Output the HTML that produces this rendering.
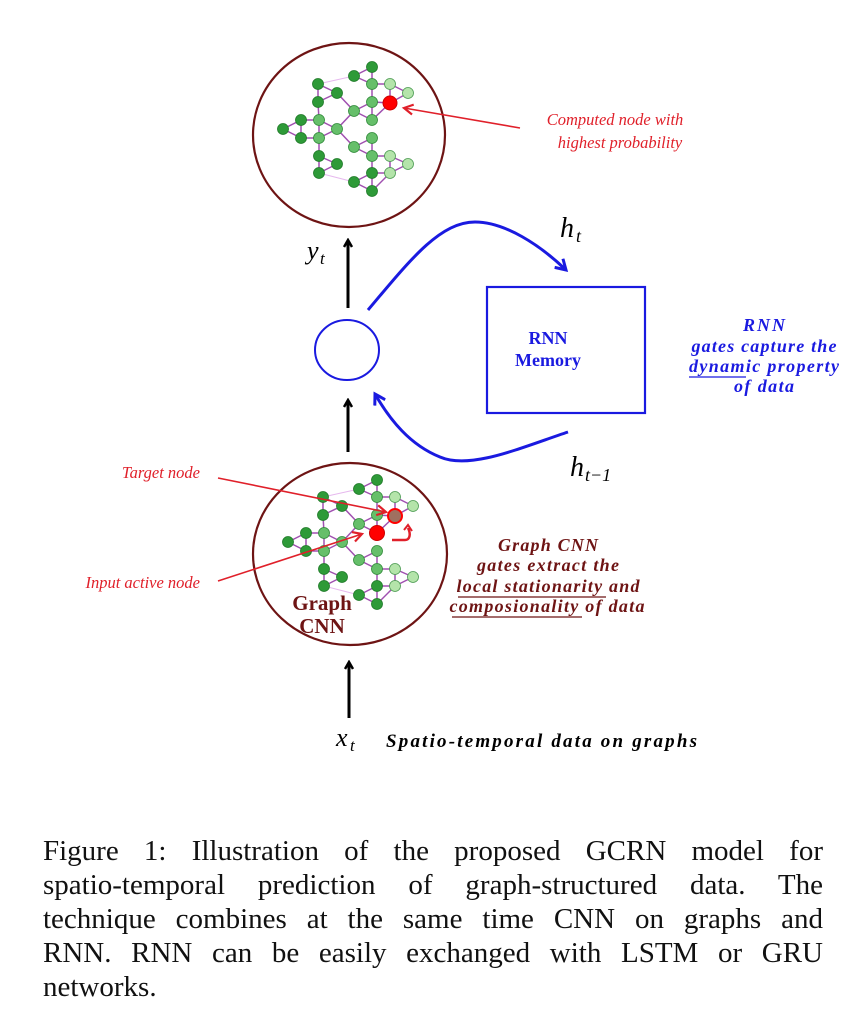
<!DOCTYPE html>
<html><head><meta charset="utf-8"><style>
html,body{margin:0;padding:0;background:#fff;}
svg{display:block;}
.cap{position:absolute;left:43px;top:834px;width:780px;font-family:"Liberation Serif",serif;font-size:29px;line-height:34px;color:#111;}
.cap div{text-align:justify;text-align-last:justify;white-space:nowrap;}
.cap div.last{text-align-last:left;}
</style></head><body>
<div style="position:relative;width:862px;height:1018px;">
<svg width="862" height="1018" viewBox="0 0 862 1018" xmlns="http://www.w3.org/2000/svg">
<defs>
<marker id="ab" markerWidth="10" markerHeight="10" refX="8" refY="5" orient="auto" markerUnits="userSpaceOnUse"><path d="M1,1 L8,5 L1,9" fill="none" stroke="#000" stroke-width="2.5"/></marker>
<marker id="ablue" markerWidth="14" markerHeight="14" refX="11" refY="7" orient="auto" markerUnits="userSpaceOnUse"><path d="M1,1 L11,7 L1,13" fill="none" stroke="#1a1ae0" stroke-width="3"/></marker>
<marker id="ared" markerWidth="14" markerHeight="14" refX="11" refY="7" orient="auto" markerUnits="userSpaceOnUse"><path d="M2,2 L11,7 L2,12" fill="none" stroke="#e0202a" stroke-width="2.2"/></marker>
<g id="graph">
<g stroke="#a050b0" stroke-width="1.5" fill="none">
<line x1="372" y1="67" x2="354" y2="76"/><line x1="372" y1="67" x2="372" y2="84"/><line x1="354" y1="76" x2="372" y2="84"/>
<line x1="372" y1="84" x2="390" y2="84"/><line x1="390" y1="84" x2="408" y2="93"/><line x1="390" y1="84" x2="390" y2="103"/><line x1="408" y1="93" x2="390" y2="103"/>
<line x1="372" y1="84" x2="372" y2="102"/><line x1="372" y1="102" x2="390" y2="103"/><line x1="372" y1="102" x2="354" y2="111"/><line x1="354" y1="111" x2="372" y2="120"/><line x1="372" y1="102" x2="372" y2="120"/><line x1="390" y1="103" x2="372" y2="120"/>
<line x1="318" y1="84" x2="337" y2="93"/><line x1="318" y1="84" x2="318" y2="102"/><line x1="337" y1="93" x2="318" y2="102"/>
<line x1="318" y1="102" x2="319" y2="120"/><line x1="301" y1="120" x2="319" y2="120"/><line x1="301" y1="120" x2="283" y2="129"/><line x1="283" y1="129" x2="301" y2="138"/><line x1="301" y1="120" x2="301" y2="138"/><line x1="301" y1="138" x2="319" y2="138"/><line x1="319" y1="120" x2="319" y2="138"/><line x1="319" y1="120" x2="337" y2="129"/><line x1="337" y1="129" x2="319" y2="138"/>
<line x1="337" y1="93" x2="354" y2="111"/><line x1="337" y1="129" x2="354" y2="111"/><line x1="337" y1="129" x2="354" y2="147"/>
<line x1="372" y1="138" x2="354" y2="147"/><line x1="372" y1="138" x2="372" y2="156"/><line x1="354" y1="147" x2="372" y2="156"/>
<line x1="372" y1="156" x2="390" y2="156"/><line x1="390" y1="156" x2="408" y2="164"/><line x1="390" y1="156" x2="390" y2="173"/><line x1="408" y1="164" x2="390" y2="173"/>
<line x1="372" y1="156" x2="372" y2="173"/><line x1="372" y1="173" x2="390" y2="173"/><line x1="372" y1="173" x2="354" y2="182"/><line x1="354" y1="182" x2="372" y2="191"/><line x1="372" y1="173" x2="372" y2="191"/><line x1="390" y1="173" x2="372" y2="191"/>
<line x1="319" y1="138" x2="319" y2="156"/><line x1="319" y1="156" x2="337" y2="164"/><line x1="319" y1="156" x2="319" y2="173"/><line x1="337" y1="164" x2="319" y2="173"/>
</g>
<g stroke="#e6b8ee" stroke-width="1" fill="none"><line x1="318" y1="84" x2="354" y2="76"/><line x1="319" y1="173" x2="354" y2="182"/></g>
<g fill="#2e9a38" stroke="#1f7a28" stroke-width="0.8">
<circle cx="372" cy="67" r="5.5"/><circle cx="354" cy="76" r="5.5"/><circle cx="318" cy="84" r="5.5"/><circle cx="337" cy="93" r="5.5"/><circle cx="318" cy="102" r="5.5"/><circle cx="301" cy="120" r="5.5"/><circle cx="283" cy="129" r="5.5"/><circle cx="301" cy="138" r="5.5"/><circle cx="319" cy="156" r="5.5"/><circle cx="337" cy="164" r="5.5"/><circle cx="319" cy="173" r="5.5"/><circle cx="372" cy="173" r="5.5"/><circle cx="354" cy="182" r="5.5"/><circle cx="372" cy="191" r="5.5"/>
</g>
<g fill="#66bf6a" stroke="#2f8a38" stroke-width="0.8">
<circle cx="372" cy="84" r="5.5"/><circle cx="372" cy="102" r="5.5"/><circle cx="354" cy="111" r="5.5"/><circle cx="372" cy="120" r="5.5"/><circle cx="319" cy="120" r="5.5"/><circle cx="337" cy="129" r="5.5"/><circle cx="319" cy="138" r="5.5"/><circle cx="372" cy="138" r="5.5"/><circle cx="354" cy="147" r="5.5"/><circle cx="372" cy="156" r="5.5"/>
</g>
<g fill="#b4e4aa" stroke="#4a9a50" stroke-width="0.8">
<circle cx="390" cy="84" r="5.5"/><circle cx="408" cy="93" r="5.5"/><circle cx="390" cy="156" r="5.5"/><circle cx="408" cy="164" r="5.5"/><circle cx="390" cy="173" r="5.5"/>
</g>
</g>
</defs>

<ellipse cx="349" cy="135" rx="96" ry="92" fill="none" stroke="#6e1414" stroke-width="2.2"/>
<use href="#graph"/>
<circle cx="390" cy="103" r="7" fill="#f00" stroke="#c00"/>
<line x1="520" y1="128" x2="404" y2="108" stroke="#e0202a" stroke-width="1.6" marker-end="url(#ared)"/>
<text x="615" y="125" text-anchor="middle" font-family="Liberation Serif,serif" font-style="italic" font-size="16.5" fill="#e0202a">Computed node with</text>
<text x="620" y="148" text-anchor="middle" font-family="Liberation Serif,serif" font-style="italic" font-size="16.5" fill="#e0202a">highest probability</text>

<line x1="348" y1="308" x2="348" y2="240" stroke="#000" stroke-width="3" marker-end="url(#ab)"/>
<text x="307" y="259" font-family="Liberation Serif,serif" font-style="italic" font-size="26" fill="#000">y</text>
<text x="320" y="264" font-family="Liberation Serif,serif" font-style="italic" font-size="17" fill="#000">t</text>

<ellipse cx="347" cy="350" rx="32" ry="30" fill="none" stroke="#1a1ae0" stroke-width="2"/>
<path d="M368,310 C410,260 440,222 475,222 C505,222 540,245 566,270" fill="none" stroke="#1a1ae0" stroke-width="3" marker-end="url(#ablue)"/>
<path d="M568,432 C520,448 470,470 440,457 C410,445 390,420 375,394" fill="none" stroke="#1a1ae0" stroke-width="3" marker-end="url(#ablue)"/>
<text x="560" y="237" font-family="Liberation Serif,serif" font-style="italic" font-size="28" fill="#000">h</text>
<text x="576" y="242" font-family="Liberation Serif,serif" font-style="italic" font-size="18" fill="#000">t</text>
<text x="570" y="476" font-family="Liberation Serif,serif" font-style="italic" font-size="28" fill="#000">h</text>
<text x="585" y="481" font-family="Liberation Serif,serif" font-style="italic" font-size="18" fill="#000">t−1</text>

<rect x="487" y="287" width="158" height="126" fill="none" stroke="#1a1ae0" stroke-width="2.2"/>
<text x="548" y="344" text-anchor="middle" font-family="Liberation Serif,serif" font-weight="bold" font-size="18" fill="#1a1ae0">RNN</text>
<text x="548" y="366" text-anchor="middle" font-family="Liberation Serif,serif" font-weight="bold" font-size="18" fill="#1a1ae0">Memory</text>

<g font-family="Liberation Serif,serif" font-style="italic" font-weight="bold" font-size="18" fill="#1a1ae0" text-anchor="middle">
<text x="764" y="331" textLength="42" lengthAdjust="spacing">RNN</text>
<text x="764" y="352" textLength="145" lengthAdjust="spacing">gates capture the</text>
<text x="764" y="372" textLength="150" lengthAdjust="spacing">dynamic property</text>
<text x="764" y="392" textLength="60" lengthAdjust="spacing">of data</text>
</g>
<line x1="689" y1="377" x2="746" y2="377" stroke="#1a1ae0" stroke-width="1.2"/>

<line x1="348" y1="452" x2="348" y2="400" stroke="#000" stroke-width="3" marker-end="url(#ab)"/>

<ellipse cx="350" cy="554" rx="97" ry="91" fill="none" stroke="#6e1414" stroke-width="2.2"/>
<use href="#graph" transform="translate(5,413)"/>
<circle cx="395" cy="516" r="7" fill="#a07060" stroke="#f00" stroke-width="2"/>
<circle cx="377" cy="533" r="7.5" fill="#f00" stroke="#c00"/>
<path d="M392,540 L405,540 C410,540 411,534 408,528" fill="none" stroke="#e0202a" stroke-width="2.5"/>
<path d="M404,530 L408,525 L412,531" fill="none" stroke="#e0202a" stroke-width="2"/>
<line x1="218" y1="478" x2="386" y2="512" stroke="#e0202a" stroke-width="1.6" marker-end="url(#ared)"/>
<line x1="218" y1="581" x2="362" y2="534" stroke="#e0202a" stroke-width="1.6" marker-end="url(#ared)"/>
<text x="322" y="610" text-anchor="middle" font-family="Liberation Serif,serif" font-weight="bold" font-size="21" fill="#6e1414">Graph</text>
<text x="322" y="633" text-anchor="middle" font-family="Liberation Serif,serif" font-weight="bold" font-size="21" fill="#6e1414">CNN</text>

<text x="200" y="478" text-anchor="end" font-family="Liberation Serif,serif" font-style="italic" font-size="16.5" fill="#e0202a">Target node</text>
<text x="200" y="588" text-anchor="end" font-family="Liberation Serif,serif" font-style="italic" font-size="16.5" fill="#e0202a">Input active node</text>

<g font-family="Liberation Serif,serif" font-style="italic" font-weight="bold" font-size="18" fill="#6e1414" text-anchor="middle">
<text x="548" y="551" textLength="100" lengthAdjust="spacing">Graph CNN</text>
<text x="548" y="571" textLength="142" lengthAdjust="spacing">gates extract the</text>
<text x="548" y="592" textLength="183" lengthAdjust="spacing">local stationarity and</text>
<text x="547" y="612" textLength="195" lengthAdjust="spacing">composionality of data</text>
</g>
<line x1="458" y1="597" x2="606" y2="597" stroke="#6e1414" stroke-width="1.2"/>
<line x1="452" y1="617" x2="582" y2="617" stroke="#6e1414" stroke-width="1.2"/>

<line x1="349" y1="718" x2="349" y2="662" stroke="#000" stroke-width="3" marker-end="url(#ab)"/>
<text x="336" y="746" font-family="Liberation Serif,serif" font-style="italic" font-size="26" fill="#000">x</text>
<text x="350" y="751" font-family="Liberation Serif,serif" font-style="italic" font-size="17" fill="#000">t</text>
<text x="386" y="747" font-family="Liberation Serif,serif" font-style="italic" font-weight="bold" font-size="19" fill="#000" textLength="311" lengthAdjust="spacing">Spatio-temporal data on graphs</text>
</svg>
<div class="cap">
<div>Figure 1: Illustration of the proposed GCRN model for</div>
<div>spatio-temporal prediction of graph-structured data. The</div>
<div>technique combines at the same time CNN on graphs and</div>
<div>RNN. RNN can be easily exchanged with LSTM or GRU</div>
<div class="last">networks.</div>
</div>
</div>
</body></html>
